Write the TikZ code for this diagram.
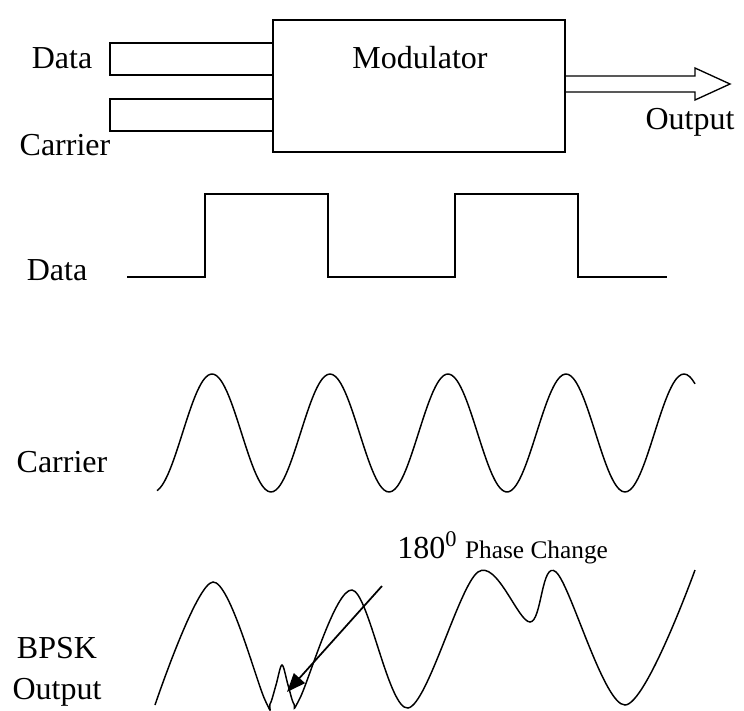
\documentclass[tikz,border=0pt]{standalone}
\usepackage{fontspec}
\setmainfont{Liberation Serif}
\usetikzlibrary{arrows.meta}
\begin{document}
\begin{tikzpicture}[x=0.75pt,y=-0.75pt,
  lbl/.style={font=\fontsize{24}{26}\selectfont,inner sep=0pt},
  wire/.style={line width=1.6pt},
  wave/.style={line width=1.1pt}]
\useasboundingbox (0,0) rectangle (744,711);
% modulator
\node[draw,line width=1.6pt,minimum width=219pt,minimum height=99pt,inner sep=0pt] (mod) at (419,86) {};
\node[lbl] (modt) at (420,58) {Modulator};
\draw[wire] (mod.west |- 0,43) coordinate (d1) -- (110,43) -- (110,75) -- (mod.west |- 0,75);
\draw[wire] (mod.west |- 0,99) coordinate (c1) -- (110,99) -- (110,131) -- (mod.west |- 0,131);
\node[lbl] (dl) at (62,58) {Data};
\node[lbl] (cl) at (65,145) {Carrier};
\draw[line width=1pt] (mod.east |- 0,76) -- (695,76) -- (695,68) -- (730,84) -- (695,100) -- (695,92) -- (mod.east |- 0,92);
\node[lbl] (ol) at (690,122) {Output};
% data waveform
\node[lbl] (dl2) at (57,270) {Data};
\draw[wire] (127,277) -- (205,277) -- (205,194) -- (328,194) -- (328,277) -- (455,277) -- (455,194) -- (578,194) -- (578,277) -- (667,277);
% carrier
\node[lbl] (cl2) at (62,462) {Carrier};
\draw[wave,domain=157:695,samples=200,smooth] plot (\x,{433-59*cos(3.050847*(\x-212))});
% bpsk
\node[lbl] (b1) at (57,648) {BPSK};
\node[lbl] (b2) at (57,692) {Output};
\draw[wave] plot[smooth,tension=0.55] coordinates {(155,705) (213,582) (265,700) (270,704) (276,685) (282,665) (288,685) (294,704) (300,698) (352,590) (408,708) (478,572) (530,622) (556,572) (625,705) (695,570)};
\node[inner sep=0pt,anchor=west] (pc) at (397,548) {\fontsize{24}{26}\selectfont 180$^{\mathrm{0}}$ \fontsize{19}{21}\selectfont Phase Change};
\coordinate (tip) at (287,692);
\draw[line width=1.3pt,-{Triangle[length=14pt,width=11pt]}] (382,586) -- (tip);
\end{tikzpicture}
\end{document}
